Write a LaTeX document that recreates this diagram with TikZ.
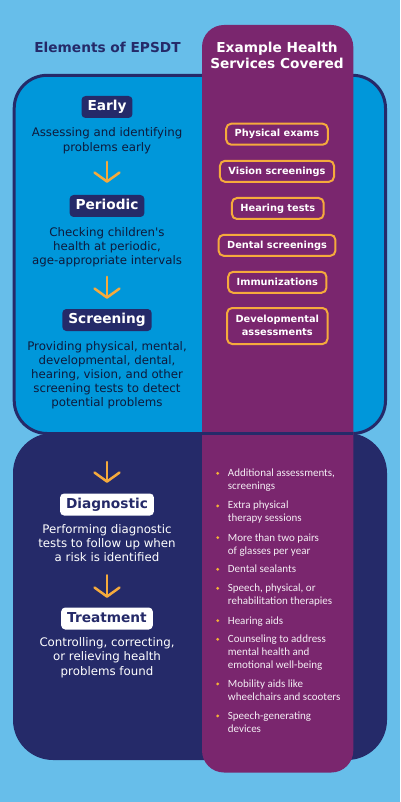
\documentclass[tikz,border=0pt]{standalone}
\usepackage{fontspec}
\setmainfont{DejaVu Sans}
\newfontfamily\listfont{Carlito}
\usetikzlibrary{arrows.meta,positioning}

\definecolor{skybg}{HTML}{67BEEA}
\definecolor{panelblue}{HTML}{0097DA}
\definecolor{navy}{HTML}{252A69}
\definecolor{plum}{HTML}{7A266E}
\definecolor{amber}{HTML}{F5AA3C}
\definecolor{inkdark}{HTML}{0E1A3C}

\tikzset{
  stage/.style={fill=navy, text=white, font=\bfseries\fontsize{13.7}{16}\selectfont,
    rounded corners=4pt, inner xsep=6pt, inner ysep=4.5pt, text height=10pt, text depth=3pt},
  stagelight/.style={stage, fill=white, text=navy},
  desc/.style={align=center, inner sep=0pt, font=\fontsize{11.8}{14.2}\selectfont, text=inkdark, anchor=base},
  service/.style={draw=amber, line width=2pt, rounded corners=5pt, text=white,
    font=\bfseries\fontsize{9.8}{12.7}\selectfont, inner xsep=8.5pt, inner ysep=5.75pt,
    text height=7.5pt, text depth=2pt, align=center},
  extra/.style={align=left, inner sep=0pt, text=white!92!plum,
    font=\listfont\fontsize{11}{12.8}\selectfont, anchor=base west},
  dot/.style={circle, fill=amber!90!yellow, inner sep=0pt, minimum size=3.1pt},
  flow/.style={amber, line width=2.5pt, line cap=round, -{Straight Barb[width=25pt,length=9pt,round]}},
}

\begin{document}
\begin{tikzpicture}[x=1pt, y=-1pt]
  \useasboundingbox (0,0) rectangle (400,802);
  \fill[skybg] (0,0) rectangle (400,802);

  % panels
  \fill[navy, rounded corners=40pt] (13,433) rectangle (387,760);
  \filldraw[fill=panelblue, draw=navy, line width=3pt, rounded corners=33pt] (14.2,75.3) rectangle (385.5,433.5);
  \fill[plum, rounded corners=22pt] (202,25) rectangle (353.3,772.5);
  \draw[navy, line width=2.7pt] (202,433.5) -- (353.3,433.5);

  % headings
  \node[font=\bfseries\fontsize{13.7}{16}\selectfont, text=navy, anchor=base] (elements) at (107.5,53) {Elements of EPSDT};
  \node[font=\bfseries\fontsize{13.7}{15.5}\selectfont, text=white, align=center, anchor=base] (covered) at (277,68.5) {Example Health\\Services Covered};

  % stages
  \node[stage] (early) at (107,107) {Early};
  \node[desc] (earlytxt) at (107,151.2) {Assessing and identifying\\problems early};
  \node[stage] (periodic) at (107,206) {Periodic};
  \node[desc] (periodictxt) at (107,264.4) {Checking children\textquotesingle s\\health at periodic,\\age-appropriate intervals};
  \node[stage] (screening) at (107,320) {Screening};
  \node[desc] (screeningtxt) at (107,406.8) {Providing physical, mental,\\developmental, dental,\\hearing, vision, and other\\screening tests to detect\\potential problems};

  \coordinate (lowstart) at (107,462);
  \node[stagelight] (diagnostic) at (107,504.5) {Diagnostic};
  \node[desc, text=white] (diagnostictxt) at (107,561.9) {Performing diagnostic\\tests to follow up when\\a risk is identified};
  \node[stagelight] (treatment) at (107,618.5) {Treatment};
  \node[desc, text=white] (treatmenttxt) at (107,675.1) {Controlling, correcting,\\or relieving health\\problems found};

  % arrows
  \draw[flow, shorten <=8pt, shorten >=12pt] (earlytxt.south) -- (periodic.north);
  \draw[flow, shorten <=9.8pt, shorten >=10pt] (periodictxt.south) -- (screening.north);
  \draw[flow, shorten >=10.5pt] (lowstart) -- (diagnostic.north);
  \draw[flow, shorten <=13pt, shorten >=9.5pt] (diagnostictxt.south) -- (treatment.north);

  % services
  \node[service] (physical) at (277,134.2) {Physical exams};
  \node[service] (vision) at (277,171.3) {Vision screenings};
  \node[service] (hearing) at (277.8,208.5) {Hearing tests};
  \node[service] (dental) at (277,245.3) {Dental screenings};
  \node[service] (immun) at (277.3,282.3) {Immunizations};
  \node[service, text height=20.2pt, inner ysep=6.9pt] (develop) at (277.3,326) {Developmental\\assessments};

  % extra services
  \foreach \top/\last/\txt [count=\i] in {476.7/489/{Additional assessments,\\screenings},
      509.3/521.7/{Extra physical\\therapy sessions},
      541/554/{More than two pairs\\of glasses per year},
      572.7/572.7/{Dental sealants},
      591.7/604.3/{Speech, physical, or\\rehabilitation therapies},
      624/624/{Hearing aids},
      642.7/668.3/{Counseling to address\\mental health and\\emotional well-being},
      687.3/700.7/{Mobility aids like\\wheelchairs and scooters},
      719.3/732.3/{Speech-generating\\devices}}
  {
    \node[extra] (extra\i) at (227.7,\last) {\txt};
    \node[dot] (dot\i) at (217.7,\top-3.4) {};
  }
\end{tikzpicture}
\end{document}
